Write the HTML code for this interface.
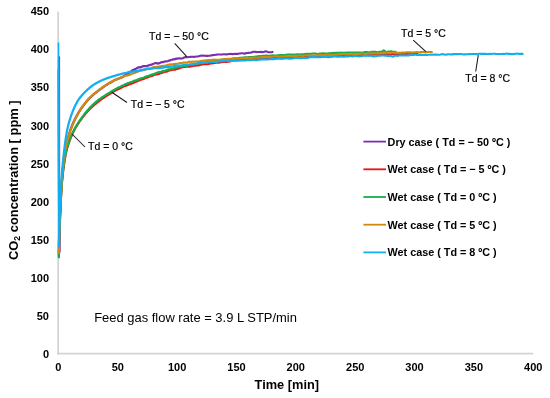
<!DOCTYPE html>
<html><head><meta charset="utf-8"><title>CO2 concentration vs time</title>
<style>
html,body{margin:0;padding:0;background:#fff;}
svg{display:block}
text{font-family:"Liberation Sans",sans-serif;fill:#000}
.tk{font-size:11px;font-weight:bold}
.lg{font-size:10.8px;font-weight:bold}
.an{font-size:10.5px;stroke:#000;stroke-width:0.2px}
.ax{font-size:12.8px;font-weight:bold}
</style></head><body>
<svg width="550" height="398" viewBox="0 0 550 398">
<rect width="550" height="398" fill="#fff"/>
<line x1="58.15" y1="11.8" x2="58.15" y2="354.6" stroke="#d4d4d4" stroke-width="1.8"/>
<line x1="57.25" y1="353.7" x2="533.2" y2="353.7" stroke="#d4d4d4" stroke-width="1.8"/>
<path d="M59.3 57.0 L59.4 252.0" fill="none" stroke="#7b2fae" stroke-width="1.6" stroke-linejoin="round" stroke-linecap="round"/>
<path d="M59.4 252.0 L59.40 252.00 L59.40 251.00 L59.41 250.00 L59.41 249.00 L59.42 247.99 L59.42 246.99 L59.43 245.99 L59.44 244.99 L59.45 243.99 L59.46 242.99 L59.47 241.99 L59.48 240.99 L59.50 239.99 L59.51 238.99 L59.53 237.99 L59.54 236.98 L59.56 235.98 L59.58 234.98 L59.60 233.98 L59.62 232.98 L59.64 231.98 L59.67 230.98 L59.69 229.98 L59.72 228.98 L59.74 227.98 L59.77 226.98 L59.79 225.98 L59.82 224.98 L59.85 223.98 L59.88 222.98 L59.91 221.99 L59.94 220.99 L59.98 219.99 L60.01 218.99 L60.04 217.99 L60.08 216.99 L60.11 215.99 L60.15 214.99 L60.18 213.99 L60.22 212.99 L60.26 211.99 L60.29 210.99 L60.33 210.00 L60.37 209.00 L60.41 208.00 L60.45 207.00 L60.49 206.00 L60.53 205.00 L60.58 204.00 L60.62 203.00 L60.66 202.01 L60.70 201.01 L60.75 200.01 L60.79 199.01 L60.84 198.01 L60.88 197.01 L60.93 196.02 L60.97 195.02 L61.02 194.02 L61.07 193.02 L61.12 192.02 L61.17 191.02 L61.23 190.03 L61.29 189.03 L61.35 188.03 L61.41 187.03 L61.48 186.04 L61.55 185.04 L61.63 184.04 L61.70 183.05 L61.78 182.05 L61.86 181.05 L61.94 180.05 L62.03 179.06 L62.11 178.06 L62.19 177.06 L62.27 176.07 L62.36 175.07 L62.44 174.07 L62.52 173.08 L62.61 172.08 L62.70 171.08 L62.78 170.09 L62.88 169.09 L62.97 168.10 L63.06 167.10 L63.16 166.11 L63.26 165.11 L63.37 164.12 L63.48 163.12 L63.59 162.13 L63.70 161.13 L63.82 160.14 L63.94 159.15 L64.07 158.16 L64.20 157.17 L64.33 156.17 L64.48 155.19 L64.63 154.20 L64.78 153.21 L64.94 152.22 L65.11 151.24 L65.29 150.26 L65.47 149.27 L65.66 148.29 L65.86 147.31 L66.07 146.33 L66.28 145.36 L66.49 144.38 L66.72 143.40 L66.94 142.43 L67.18 141.46 L67.41 140.48 L67.65 139.51 L67.90 138.54 L68.15 137.57 L68.41 136.60 L68.67 135.64 L68.94 134.68 L69.22 133.71 L69.51 132.76 L69.80 131.80 L70.10 130.85 L70.42 129.90 L70.75 128.96 L71.08 128.02 L71.43 127.09 L71.79 126.16 L72.17 125.23 L72.56 124.31 L72.95 123.40 L73.36 122.48 L73.78 121.57 L74.21 120.67 L74.65 119.77 L75.10 118.88 L75.55 117.99 L76.02 117.10 L76.49 116.22 L76.96 115.35 L77.45 114.48 L77.94 113.63 L78.43 112.78 L78.94 111.95 L79.45 111.12 L79.97 110.32 L80.50 109.52 L81.03 108.75 L81.58 107.98 L82.12 107.23 L82.67 106.49 L83.23 105.75 L83.80 105.02 L84.37 104.30 L84.94 103.58 L85.52 102.86 L86.11 102.15 L86.70 101.44 L87.31 100.74 L87.92 100.04 L88.55 99.35 L89.19 98.66 L89.84 97.99 L90.51 97.32 L91.20 96.66 L91.90 96.01 L92.61 95.37 L93.34 94.74 L94.09 94.11 L94.84 93.49 L95.61 92.87 L96.39 92.25 L97.17 91.64 L97.97 91.03 L98.77 90.42 L99.58 89.81 L100.40 89.20 L101.23 88.59 L102.07 87.99 L102.91 87.37 L103.76 86.74 L104.61 86.16 L105.47 85.62 L106.34 85.06 L107.21 84.47 L108.09 83.91 L108.98 83.38 L109.87 82.86 L110.76 82.44 L111.66 82.01 L112.56 81.43 L113.47 80.80 L114.38 80.25 L115.30 79.86 L116.22 79.50 L117.15 79.13 L118.07 78.80 L119.00 78.46 L119.93 78.16 L120.85 77.78 L121.77 77.42 L122.68 76.98 L123.58 76.39 L124.47 75.70 L125.33 75.01 L126.18 74.56 L127.00 74.23 L127.80 73.73 L128.59 73.38 L129.37 72.72 L130.15 72.05 L130.93 71.48 L131.72 70.76 L132.53 70.08 L133.37 69.83 L134.23 69.51 L135.11 69.08 L136.02 68.78 L136.94 67.97 L137.88 67.61 L138.84 67.27 L139.80 67.18 L140.77 67.27 L141.74 66.71 L142.71 66.38 L143.69 66.15 L144.66 66.01 L145.64 66.12 L146.62 66.11 L147.59 65.85 L148.57 65.30 L149.55 65.06 L150.52 64.79 L151.50 64.68 L152.47 64.20 L153.45 63.79 L154.42 63.51 L155.40 63.09 L156.37 63.18 L157.34 63.42 L158.32 63.54 L159.29 63.08 L160.26 62.76 L161.24 62.26 L162.21 62.16 L163.19 62.13 L164.16 61.72 L165.14 61.52 L166.11 61.31 L167.09 61.27 L168.06 60.97 L169.04 60.55 L170.02 60.39 L171.00 60.04 L171.97 59.76 L172.95 59.39 L173.93 59.36 L174.91 59.05 L175.89 58.83" fill="none" stroke="#7b2fae" stroke-width="2.25" stroke-linejoin="round" stroke-linecap="round"/>
<path d="M175.89 58.83 L176.87 58.62 L177.86 58.48 L178.84 58.40 L179.82 58.32 L180.81 58.59 L181.79 58.57 L182.78 58.26 L183.76 57.67 L184.75 57.24 L185.74 57.02 L186.73 57.18 L187.72 57.19 L188.70 57.05 L189.69 56.99 L190.68 56.84 L191.67 56.79 L192.67 56.72 L193.66 56.87 L194.65 56.74 L195.64 56.65 L196.63 56.52 L197.63 56.42 L198.62 56.23 L199.61 55.91 L200.61 55.67 L201.60 55.71 L202.60 55.61 L203.59 55.59 L204.59 55.70 L205.59 55.83 L206.58 55.84 L207.58 55.90 L208.58 55.73 L209.57 55.77 L210.57 55.51 L211.57 55.49 L212.57 55.01 L213.57 55.08 L214.57 54.95 L215.56 54.69 L216.56 54.61 L217.56 54.53 L218.56 54.50 L219.56 54.44 L220.56 54.47 L221.56 54.48 L222.57 54.38 L223.57 54.21 L224.57 54.27 L225.57 54.41 L226.57 54.54 L227.57 54.23 L228.57 53.96 L229.57 53.93 L230.56 53.88 L231.56 54.03 L232.56 54.11 L233.55 54.08 L234.55 53.87 L235.54 53.93 L236.54 53.70 L237.53 53.89 L238.52 53.67 L239.51 53.55 L240.51 53.53 L241.50 53.29 L242.49 53.30 L243.48 53.52 L244.48 53.64 L245.47 53.39 L246.47 53.13 L247.46 53.05 L248.46 52.83 L249.45 52.78 L250.45 52.73 L251.45 52.55 L252.45 51.98 L253.44 51.70 L254.44 51.70 L255.44 51.90 L256.44 52.09 L257.44 51.94 L258.44 51.98 L259.44 51.93 L260.44 51.88 L261.44 52.08 L262.44 52.15 L263.44 52.06 L264.45 51.71 L265.45 51.27 L266.45 51.54 L267.46 51.84 L268.46 52.30 L269.47 52.27 L270.47 52.17 L271.48 52.30 L272.49 51.91" fill="none" stroke="#7b2fae" stroke-width="2.1" stroke-linejoin="round" stroke-linecap="round"/>
<path d="M58.5 70.0 L58.9 255.0" fill="none" stroke="#f4100e" stroke-width="1.6" stroke-linejoin="round" stroke-linecap="round"/>
<path d="M58.9 255.0 L58.90 255.00 L58.91 254.00 L58.92 253.00 L58.93 252.00 L58.95 251.00 L58.96 250.00 L58.97 249.00 L58.99 247.99 L59.01 246.99 L59.03 245.99 L59.04 244.99 L59.06 243.99 L59.09 242.99 L59.11 241.99 L59.13 240.99 L59.16 239.99 L59.18 238.99 L59.21 237.99 L59.24 236.99 L59.27 235.99 L59.30 234.99 L59.33 233.99 L59.36 232.99 L59.40 231.99 L59.43 230.99 L59.47 229.99 L59.50 228.99 L59.54 227.99 L59.58 227.00 L59.62 226.00 L59.66 225.00 L59.70 224.00 L59.74 223.00 L59.78 222.00 L59.82 221.00 L59.87 220.00 L59.91 219.00 L59.96 218.00 L60.00 217.00 L60.05 216.01 L60.09 215.01 L60.14 214.01 L60.19 213.01 L60.24 212.01 L60.29 211.01 L60.34 210.01 L60.39 209.01 L60.44 208.02 L60.49 207.02 L60.54 206.02 L60.59 205.02 L60.64 204.02 L60.69 203.02 L60.75 202.03 L60.80 201.03 L60.85 200.03 L60.91 199.03 L60.96 198.03 L61.02 197.03 L61.07 196.04 L61.12 195.04 L61.18 194.04 L61.24 193.04 L61.29 192.04 L61.35 191.05 L61.41 190.05 L61.47 189.05 L61.54 188.05 L61.60 187.05 L61.67 186.06 L61.75 185.06 L61.82 184.06 L61.90 183.07 L61.98 182.07 L62.07 181.07 L62.16 180.08 L62.25 179.08 L62.35 178.09 L62.45 177.09 L62.56 176.10 L62.67 175.10 L62.78 174.11 L62.90 173.12 L63.02 172.13 L63.15 171.13 L63.28 170.14 L63.41 169.15 L63.54 168.16 L63.67 167.17 L63.81 166.18 L63.95 165.18 L64.09 164.19 L64.23 163.20 L64.37 162.21 L64.51 161.22 L64.66 160.23 L64.81 159.24 L64.97 158.25 L65.13 157.27 L65.30 156.28 L65.48 155.30 L65.67 154.32 L65.87 153.34 L66.08 152.37 L66.30 151.39 L66.54 150.42 L66.78 149.46 L67.04 148.49 L67.31 147.53 L67.60 146.57 L67.89 145.61 L68.19 144.66 L68.51 143.71 L68.83 142.76 L69.16 141.82 L69.50 140.88 L69.85 139.94 L70.21 139.01 L70.58 138.08 L70.96 137.15 L71.35 136.23 L71.75 135.31 L72.17 134.40 L72.59 133.49 L73.02 132.59 L73.46 131.70 L73.91 130.81 L74.38 129.92 L74.85 129.04 L75.34 128.17 L75.83 127.31 L76.34 126.45 L76.86 125.60 L77.39 124.75 L77.93 123.91 L78.49 123.08 L79.05 122.25 L79.62 121.43 L80.20 120.61 L80.79 119.80 L81.38 118.99 L81.98 118.19 L82.59 117.40 L83.20 116.61 L83.82 115.82 L84.44 115.05 L85.07 114.28 L85.70 113.52 L86.34 112.77 L86.99 112.04 L87.64 111.31 L88.29 110.60 L88.95 109.91 L89.62 109.23 L90.30 108.56 L90.98 107.90 L91.66 107.25 L92.35 106.62 L93.05 105.99 L93.75 105.37 L94.45 104.75 L95.17 104.14 L95.89 103.54 L96.61 102.93 L97.35 102.34 L98.09 101.75 L98.85 101.16 L99.61 100.58 L100.39 100.00 L101.18 99.43 L101.99 98.87 L102.80 98.32 L103.63 97.76 L104.46 97.21 L105.30 96.65 L106.15 96.14 L107.00 95.63 L107.86 95.09 L108.72 94.58 L109.59 94.03 L110.46 93.54 L111.33 92.94 L112.21 92.33 L113.09 91.87 L113.98 91.33 L114.87 90.83 L115.76 90.38 L116.66 89.87 L117.56 89.46 L118.46 88.97 L119.36 88.64 L120.27 88.20 L121.18 87.69 L122.10 87.23 L123.02 86.77 L123.94 86.24 L124.86 86.02 L125.79 85.79 L126.72 85.46 L127.65 85.05 L128.59 84.63 L129.53 84.26 L130.46 83.96 L131.40 83.62 L132.34 83.37 L133.27 82.87 L134.21 82.52 L135.14 82.00 L136.08 81.72 L137.01 81.18 L137.95 80.83 L138.88 80.54 L139.82 80.24 L140.76 79.74 L141.70 79.51 L142.64 79.29 L143.58 78.99 L144.52 78.48 L145.47 78.08 L146.41 77.64 L147.36 77.46 L148.30 77.10 L149.25 76.64 L150.20 76.24 L151.15 76.09 L152.10 75.85 L153.05 75.40 L154.01 75.05 L154.96 74.58 L155.92 74.32 L156.87 74.42 L157.83 74.19 L158.79 73.91 L159.74 73.40 L160.70 73.19 L161.66 72.79 L162.62 72.58 L163.59 72.17 L164.55 71.93 L165.51 71.75 L166.48 71.67 L167.44 71.21 L168.41 70.72 L169.38 70.34 L170.34 70.10 L171.31 70.11 L172.28 69.66 L173.26 69.60 L174.23 69.61 L175.20 69.49" fill="none" stroke="#f4100e" stroke-width="2.25" stroke-linejoin="round" stroke-linecap="round"/>
<path d="M175.20 69.49 L176.18 69.15 L177.15 68.97 L178.13 68.71 L179.11 68.39 L180.09 67.91 L181.07 67.70 L182.06 67.32 L183.04 67.19 L184.03 66.78 L185.01 66.85 L186.00 66.66 L186.99 66.63 L187.97 66.77 L188.96 66.65 L189.95 66.65 L190.94 66.31 L191.92 66.26 L192.91 65.92 L193.90 65.68 L194.89 65.65 L195.88 65.58 L196.87 65.35 L197.86 65.36 L198.85 65.37 L199.84 65.08 L200.83 64.75 L201.82 64.51 L202.81 64.50 L203.80 64.28 L204.79 64.09 L205.78 64.19 L206.77 64.06 L207.76 64.17 L208.75 63.90 L209.75 63.66 L210.74 63.50 L211.73 63.50 L212.72 63.26 L213.72 63.15 L214.71 63.02 L215.70 62.83 L216.69 62.67 L217.69 62.59 L218.68 62.65 L219.67 62.60 L220.66 62.16 L221.66 62.30 L222.65 61.94 L223.64 61.96 L224.64 61.80 L225.63 61.87 L226.62 61.83 L227.62 61.78 L228.61 61.76 L229.60 61.51 L230.60 61.04 L231.59 60.81 L232.59 60.67 L233.58 60.47 L234.58 60.25 L235.57 60.21 L236.57 60.25 L237.56 60.17 L238.56 60.11 L239.56 60.29 L240.55 60.08 L241.55 60.07 L242.54 59.96 L243.54 60.06 L244.54 60.01 L245.53 59.77 L246.53 59.75 L247.53 59.49 L248.53 59.47 L249.52 59.25 L250.52 59.03 L251.52 59.13 L252.52 58.98 L253.51 59.01 L254.51 59.09 L255.51 59.03 L256.51 58.88 L257.51 58.73 L258.50 58.51 L259.50 58.47 L260.50 58.82 L261.50 58.68 L262.50 58.54 L263.50 58.37 L264.49 58.37 L265.49 58.39 L266.49 58.35 L267.49 58.39 L268.49 58.15 L269.49 58.19 L270.49 58.13 L271.48 58.12 L272.48 58.11 L273.48 57.87 L274.48 58.24 L275.48 57.88 L276.48 57.93 L277.48 57.85 L278.48 57.67 L279.48 57.50 L280.48 57.26 L281.47 57.46 L282.47 57.62 L283.47 57.43 L284.47 57.36 L285.47 57.20 L286.47 57.46 L287.47 57.38 L288.47 57.25 L289.47 57.32 L290.47 57.35 L291.47 57.26 L292.47 57.24 L293.47 57.13 L294.47 57.04 L295.47 57.03 L296.47 56.87 L297.47 56.78 L298.46 56.81 L299.46 56.69 L300.46 56.60 L301.46 56.77 L302.46 56.63 L303.46 56.67 L304.46 56.73 L305.46 56.63 L306.46 56.77 L307.46 56.65 L308.46 56.45 L309.46 56.39 L310.46 56.35 L311.46 56.35 L312.46 56.55 L313.46 56.43 L314.45 56.48 L315.45 56.34 L316.45 56.22 L317.45 56.20 L318.45 56.24 L319.45 56.13 L320.45 55.95 L321.45 55.89 L322.45 55.85 L323.45 55.94 L324.45 56.05 L325.45 55.99 L326.45 56.02 L327.45 55.88 L328.45 55.70 L329.45 55.47 L330.45 55.44 L331.45 55.66 L332.45 55.83 L333.44 55.77 L334.44 55.73 L335.44 55.91 L336.44 55.86 L337.44 55.63 L338.44 55.69 L339.44 55.53 L340.44 55.59 L341.44 55.49 L342.44 55.52 L343.44 55.53 L344.44 55.54 L345.44 55.64 L346.44 55.55 L347.44 55.56 L348.44 55.30 L349.44 55.11 L350.44 55.11 L351.44 55.05 L352.44 55.08 L353.44 55.09 L354.44 54.89 L355.44 54.92 L356.44 54.89 L357.44 54.90 L358.43 54.70 L359.43 54.85 L360.43 54.85 L361.43 54.63 L362.43 54.52 L363.43 54.49 L364.43 54.50 L365.43 54.79 L366.43 54.90 L367.43 54.77 L368.43 54.63 L369.43 54.49 L370.43 54.63 L371.43 54.53 L372.43 54.52 L373.43 54.60 L374.43 54.44 L375.43 54.50 L376.43 54.57 L377.43 54.54 L378.43 54.57 L379.43 54.57 L380.43 54.46 L381.43 54.19 L382.43 54.15 L383.43 54.31 L384.43 54.20 L385.43 54.02 L386.43 54.15 L387.43 54.32 L388.43 54.29 L389.43 54.44 L390.43 54.41 L391.43 54.35 L392.43 54.07 L393.43 54.12 L394.43 54.28 L395.43 54.17 L396.43 54.39 L397.43 54.32 L398.42 54.20 L399.42 54.06 L400.42 53.90 L401.42 53.85 L402.42 53.94 L403.42 54.03 L404.42 54.19 L405.42 54.24 L406.42 54.13 L407.42 53.82 L408.42 53.65 L409.42 53.82 L410.42 53.97 L411.42 54.00 L412.42 53.80 L413.42 53.75 L414.42 53.59 L415.42 53.75 L416.42 53.71 L417.42 53.81" fill="none" stroke="#f4100e" stroke-width="2.1" stroke-linejoin="round" stroke-linecap="round"/>
<path d="M58.5 70.0 L58.9 257.3" fill="none" stroke="#14ae4c" stroke-width="1.6" stroke-linejoin="round" stroke-linecap="round"/>
<path d="M58.9 257.3 L58.90 257.30 L58.91 256.30 L58.91 255.30 L58.92 254.30 L58.93 253.30 L58.94 252.29 L58.94 251.29 L58.96 250.29 L58.97 249.29 L58.98 248.29 L59.00 247.29 L59.01 246.29 L59.03 245.29 L59.05 244.29 L59.07 243.29 L59.09 242.29 L59.11 241.29 L59.13 240.29 L59.16 239.29 L59.18 238.29 L59.21 237.29 L59.24 236.29 L59.27 235.29 L59.30 234.29 L59.33 233.29 L59.36 232.29 L59.39 231.29 L59.42 230.29 L59.46 229.29 L59.49 228.29 L59.53 227.29 L59.57 226.29 L59.61 225.29 L59.64 224.29 L59.68 223.29 L59.72 222.29 L59.77 221.30 L59.81 220.30 L59.85 219.30 L59.89 218.30 L59.94 217.30 L59.98 216.30 L60.03 215.30 L60.07 214.30 L60.12 213.30 L60.16 212.31 L60.21 211.31 L60.26 210.31 L60.31 209.31 L60.36 208.31 L60.41 207.31 L60.45 206.31 L60.50 205.32 L60.55 204.32 L60.61 203.32 L60.66 202.32 L60.71 201.32 L60.76 200.32 L60.81 199.33 L60.86 198.33 L60.91 197.33 L60.97 196.33 L61.02 195.33 L61.07 194.33 L61.13 193.34 L61.18 192.34 L61.24 191.34 L61.30 190.34 L61.36 189.34 L61.42 188.35 L61.49 187.35 L61.55 186.35 L61.62 185.35 L61.70 184.36 L61.78 183.36 L61.86 182.36 L61.94 181.37 L62.03 180.37 L62.12 179.37 L62.21 178.38 L62.31 177.38 L62.41 176.39 L62.51 175.39 L62.62 174.40 L62.73 173.41 L62.84 172.41 L62.96 171.42 L63.08 170.43 L63.20 169.43 L63.33 168.44 L63.46 167.45 L63.58 166.46 L63.72 165.46 L63.85 164.47 L63.99 163.48 L64.13 162.49 L64.27 161.50 L64.41 160.51 L64.56 159.52 L64.72 158.53 L64.88 157.54 L65.05 156.56 L65.23 155.58 L65.42 154.60 L65.61 153.62 L65.82 152.64 L66.04 151.67 L66.28 150.70 L66.52 149.73 L66.78 148.77 L67.05 147.81 L67.34 146.85 L67.63 145.89 L67.94 144.94 L68.25 143.99 L68.57 143.04 L68.90 142.10 L69.24 141.15 L69.59 140.22 L69.94 139.28 L70.31 138.35 L70.68 137.42 L71.06 136.49 L71.45 135.57 L71.85 134.65 L72.26 133.74 L72.68 132.83 L73.11 131.93 L73.54 131.03 L73.99 130.14 L74.45 129.26 L74.93 128.38 L75.41 127.51 L75.90 126.64 L76.41 125.78 L76.92 124.93 L77.45 124.08 L77.99 123.23 L78.54 122.40 L79.09 121.56 L79.66 120.74 L80.23 119.91 L80.81 119.10 L81.39 118.28 L81.98 117.47 L82.58 116.67 L83.17 115.87 L83.78 115.07 L84.38 114.28 L84.99 113.49 L85.61 112.72 L86.22 111.95 L86.85 111.19 L87.48 110.44 L88.11 109.71 L88.75 108.99 L89.40 108.28 L90.05 107.58 L90.70 106.90 L91.36 106.23 L92.03 105.57 L92.70 104.92 L93.38 104.28 L94.07 103.64 L94.77 103.02 L95.47 102.40 L96.18 101.79 L96.91 101.19 L97.65 100.59 L98.40 100.01 L99.16 99.43 L99.94 98.86 L100.73 98.30 L101.54 97.75 L102.35 97.20 L103.18 96.65 L104.02 96.11 L104.86 95.59 L105.71 95.05 L106.56 94.54 L107.42 93.98 L108.28 93.42 L109.15 92.87 L110.02 92.36 L110.89 91.79 L111.77 91.32 L112.66 90.81 L113.55 90.32 L114.44 89.79 L115.33 89.25 L116.23 88.76 L117.13 88.23 L118.03 87.76 L118.94 87.30 L119.84 86.99 L120.75 86.51 L121.67 86.09 L122.59 85.60 L123.51 85.20 L124.43 84.74 L125.36 84.28 L126.29 83.89 L127.22 83.44 L128.16 83.08 L129.09 82.86 L130.03 82.46 L130.96 82.11 L131.90 81.89 L132.83 81.49 L133.76 80.86 L134.70 80.63 L135.63 80.39 L136.56 80.11 L137.49 79.70 L138.42 79.50 L139.36 78.93 L140.30 78.62 L141.23 78.34 L142.17 78.02 L143.11 77.78 L144.06 77.44 L145.00 76.96 L145.94 76.72 L146.88 76.27 L147.83 76.04 L148.77 75.91 L149.71 75.44 L150.66 75.14 L151.60 74.68 L152.54 74.41 L153.49 74.19 L154.43 73.93 L155.37 73.47 L156.31 73.00 L157.26 72.64 L158.20 72.43 L159.14 72.18 L160.09 72.03 L161.04 71.82 L161.99 71.42 L162.94 71.12 L163.89 71.08 L164.85 70.74 L165.81 70.33 L166.77 70.06 L167.73 69.67 L168.70 69.38 L169.67 69.30 L170.64 68.97 L171.61 68.95 L172.58 68.54 L173.55 68.29 L174.53 68.15 L175.51 67.93" fill="none" stroke="#14ae4c" stroke-width="2.25" stroke-linejoin="round" stroke-linecap="round"/>
<path d="M175.51 67.93 L176.48 67.55 L177.46 67.45 L178.44 67.09 L179.42 66.96 L180.40 66.86 L181.38 66.76 L182.36 66.42 L183.34 66.34 L184.33 66.17 L185.31 65.96 L186.29 65.92 L187.28 65.79 L188.26 65.34 L189.25 65.13 L190.23 65.06 L191.21 64.90 L192.20 64.96 L193.18 64.70 L194.17 64.34 L195.15 64.03 L196.14 63.74 L197.12 63.61 L198.11 63.48 L199.09 63.34 L200.08 63.22 L201.07 63.25 L202.05 63.20 L203.04 62.95 L204.03 62.95 L205.02 62.57 L206.01 62.38 L207.00 62.06 L207.99 61.76 L208.98 61.64 L209.97 61.45 L210.96 61.37 L211.95 61.42 L212.94 61.34 L213.93 61.25 L214.92 61.05 L215.91 60.94 L216.90 60.63 L217.89 60.53 L218.89 60.38 L219.88 60.30 L220.87 60.15 L221.86 59.95 L222.85 59.76 L223.85 59.55 L224.84 59.59 L225.83 59.61 L226.83 59.55 L227.82 59.13 L228.81 59.18 L229.81 59.13 L230.80 58.96 L231.79 58.85 L232.79 58.55 L233.78 58.30 L234.77 58.37 L235.77 58.42 L236.76 58.50 L237.76 58.30 L238.75 58.16 L239.75 57.74 L240.74 57.71 L241.74 57.67 L242.73 57.49 L243.73 57.50 L244.73 57.37 L245.72 57.41 L246.72 57.33 L247.72 57.30 L248.71 57.06 L249.71 57.12 L250.71 57.09 L251.71 57.10 L252.71 57.10 L253.70 56.86 L254.70 56.76 L255.70 56.53 L256.70 56.47 L257.70 56.38 L258.70 56.05 L259.70 56.20 L260.70 56.02 L261.70 55.96 L262.70 55.86 L263.70 55.87 L264.70 55.68 L265.70 55.67 L266.70 55.64 L267.69 55.72 L268.69 55.81 L269.69 55.79 L270.69 55.66 L271.69 55.44 L272.69 55.24 L273.69 55.47 L274.69 55.57 L275.69 55.64 L276.69 55.61 L277.69 55.31 L278.69 55.19 L279.69 54.97 L280.68 55.15 L281.68 55.05 L282.68 55.00 L283.68 55.13 L284.68 55.02 L285.68 54.89 L286.68 54.82 L287.68 54.56 L288.68 54.56 L289.68 54.56 L290.68 54.58 L291.68 54.60 L292.67 54.83 L293.67 54.64 L294.67 54.64 L295.67 54.48 L296.67 54.40 L297.67 54.19 L298.67 54.19 L299.67 54.43 L300.67 54.41 L301.67 54.25 L302.67 54.26 L303.67 54.23 L304.67 53.99 L305.66 54.13 L306.66 53.89 L307.66 53.91 L308.66 53.73 L309.66 54.00 L310.66 53.76 L311.66 53.79 L312.66 53.50 L313.66 53.54 L314.66 53.47 L315.66 53.58 L316.66 53.93 L317.66 54.04 L318.66 53.84 L319.66 53.50 L320.66 53.47 L321.66 53.48 L322.65 53.39 L323.65 53.37 L324.65 53.43 L325.65 53.44 L326.65 53.58 L327.65 53.65 L328.65 53.38 L329.65 53.41 L330.65 53.35 L331.65 53.03 L332.65 53.03 L333.65 52.87 L334.65 52.93 L335.65 52.83 L336.65 52.85 L337.65 52.89 L338.65 52.89 L339.65 52.83 L340.65 52.55 L341.64 52.80 L342.64 52.68 L343.64 52.70 L344.64 52.77 L345.64 52.80 L346.64 52.63 L347.64 52.63 L348.64 52.60 L349.64 52.65 L350.64 52.52 L351.64 52.61 L352.64 52.62 L353.64 52.58 L354.64 52.66 L355.64 52.54 L356.64 52.42 L357.64 52.55 L358.64 52.60 L359.64 52.61 L360.64 52.60 L361.64 52.73 L362.64 52.51 L363.64 52.36 L364.64 52.04 L365.64 52.02 L366.64 52.00 L367.64 52.12 L368.64 52.18 L369.64 52.23 L370.63 52.08 L371.63 51.78 L372.63 51.81 L373.63 51.88 L374.63 51.89 L375.63 51.78 L376.63 52.01 L377.63 52.18 L378.63 52.00 L379.63 51.89 L380.63 51.81 L381.63 51.70 L382.63 51.34 L383.63 50.38 L384.63 50.73 L385.63 51.84 L386.63 52.08 L387.63 51.58 L388.63 51.60 L389.63 51.62 L390.63 51.42 L391.63 51.33 L392.63 51.83 L393.63 51.71 L394.63 51.77 L395.63 51.82" fill="none" stroke="#14ae4c" stroke-width="2.1" stroke-linejoin="round" stroke-linecap="round"/>
<path d="M58.5 60.0 L58.9 252.7" fill="none" stroke="#d08a0c" stroke-width="1.6" stroke-linejoin="round" stroke-linecap="round"/>
<path d="M58.9 252.7 L58.90 252.70 L58.91 251.70 L58.91 250.70 L58.92 249.70 L58.93 248.70 L58.93 247.69 L58.94 246.69 L58.95 245.69 L58.97 244.69 L58.98 243.69 L58.99 242.69 L59.01 241.69 L59.03 240.69 L59.05 239.69 L59.07 238.69 L59.09 237.69 L59.11 236.69 L59.14 235.69 L59.16 234.69 L59.19 233.69 L59.22 232.69 L59.24 231.69 L59.27 230.69 L59.30 229.69 L59.34 228.69 L59.37 227.69 L59.40 226.69 L59.44 225.69 L59.47 224.69 L59.51 223.69 L59.55 222.69 L59.59 221.69 L59.63 220.69 L59.67 219.69 L59.71 218.70 L59.75 217.70 L59.79 216.70 L59.83 215.70 L59.88 214.70 L59.92 213.70 L59.97 212.70 L60.01 211.70 L60.06 210.70 L60.10 209.71 L60.15 208.71 L60.20 207.71 L60.25 206.71 L60.30 205.71 L60.35 204.71 L60.39 203.71 L60.44 202.72 L60.49 201.72 L60.55 200.72 L60.60 199.72 L60.65 198.72 L60.70 197.72 L60.75 196.73 L60.80 195.73 L60.86 194.73 L60.91 193.73 L60.96 192.73 L61.02 191.74 L61.08 190.74 L61.14 189.74 L61.20 188.74 L61.27 187.74 L61.33 186.75 L61.40 185.75 L61.48 184.75 L61.55 183.76 L61.63 182.76 L61.71 181.76 L61.79 180.76 L61.87 179.77 L61.95 178.77 L62.03 177.77 L62.12 176.78 L62.20 175.78 L62.28 174.78 L62.37 173.79 L62.45 172.79 L62.54 171.79 L62.62 170.80 L62.71 169.80 L62.80 168.81 L62.89 167.81 L62.99 166.81 L63.08 165.82 L63.18 164.82 L63.28 163.83 L63.38 162.83 L63.49 161.84 L63.60 160.84 L63.71 159.85 L63.83 158.86 L63.95 157.86 L64.07 156.87 L64.21 155.88 L64.35 154.89 L64.49 153.90 L64.65 152.92 L64.81 151.93 L64.99 150.95 L65.17 149.97 L65.37 148.99 L65.57 148.01 L65.78 147.03 L66.01 146.06 L66.23 145.08 L66.47 144.11 L66.71 143.14 L66.96 142.17 L67.22 141.20 L67.48 140.24 L67.75 139.28 L68.02 138.31 L68.30 137.35 L68.59 136.39 L68.88 135.44 L69.18 134.48 L69.49 133.53 L69.81 132.58 L70.13 131.64 L70.46 130.69 L70.80 129.75 L71.14 128.81 L71.50 127.88 L71.86 126.95 L72.23 126.02 L72.60 125.09 L72.99 124.17 L73.38 123.25 L73.79 122.33 L74.19 121.42 L74.61 120.51 L75.04 119.61 L75.47 118.70 L75.90 117.81 L76.35 116.91 L76.80 116.03 L77.26 115.14 L77.72 114.27 L78.19 113.40 L78.67 112.55 L79.16 111.70 L79.65 110.87 L80.15 110.05 L80.66 109.24 L81.17 108.45 L81.69 107.67 L82.21 106.91 L82.75 106.15 L83.28 105.40 L83.83 104.66 L84.38 103.92 L84.94 103.19 L85.51 102.47 L86.09 101.75 L86.68 101.04 L87.28 100.33 L87.89 99.63 L88.52 98.94 L89.16 98.26 L89.82 97.59 L90.49 96.93 L91.18 96.27 L91.88 95.63 L92.60 94.99 L93.34 94.36 L94.09 93.73 L94.85 93.12 L95.61 92.50 L96.39 91.89 L97.18 91.28 L97.98 90.67 L98.79 90.07 L99.60 89.46 L100.42 88.85 L101.25 88.24 L102.09 87.65 L102.93 87.04 L103.78 86.44 L104.64 85.87 L105.50 85.28 L106.37 84.72 L107.24 84.15 L108.13 83.56 L109.01 83.05 L109.90 82.55 L110.80 82.08 L111.70 81.57 L112.60 81.14 L113.51 80.65 L114.43 80.21 L115.34 79.81 L116.27 79.55 L117.19 79.12 L118.12 78.67 L119.05 78.25 L119.99 77.85 L120.93 77.42 L121.88 77.16 L122.82 76.75 L123.77 76.36 L124.72 76.09 L125.68 75.73 L126.63 75.66 L127.59 75.41 L128.54 75.16 L129.49 74.86 L130.44 74.37 L131.39 74.08 L132.34 73.70 L133.29 73.30 L134.23 72.87 L135.18 72.61 L136.13 72.25 L137.08 71.93 L138.03 71.41 L138.98 71.04 L139.93 70.76 L140.89 70.56 L141.85 70.31 L142.81 70.08 L143.77 69.90 L144.74 69.64 L145.71 69.43 L146.68 69.13 L147.65 68.83 L148.62 68.55 L149.60 68.65 L150.57 68.58 L151.55 68.01 L152.53 67.54 L153.50 67.19 L154.48 67.04 L155.46 67.03 L156.44 66.88 L157.42 66.84 L158.41 66.56 L159.39 66.48 L160.37 66.28 L161.36 66.07 L162.35 66.07 L163.33 65.88 L164.32 65.86 L165.31 65.69 L166.29 65.49 L167.28 65.09 L168.27 64.75 L169.26 64.49 L170.25 64.59 L171.24 64.48 L172.23 64.34 L173.22 64.25 L174.20 64.13 L175.19 63.99" fill="none" stroke="#d08a0c" stroke-width="2.25" stroke-linejoin="round" stroke-linecap="round"/>
<path d="M175.19 63.99 L176.18 63.75 L177.17 63.68 L178.16 63.55 L179.15 63.30 L180.14 63.10 L181.14 63.16 L182.13 62.89 L183.12 62.67 L184.11 62.60 L185.10 62.43 L186.09 62.48 L187.08 62.36 L188.08 62.19 L189.07 61.72 L190.06 61.72 L191.06 61.85 L192.05 61.68 L193.05 61.66 L194.04 61.76 L195.04 61.65 L196.03 61.57 L197.03 61.57 L198.02 61.50 L199.02 61.24 L200.02 61.31 L201.01 60.90 L202.01 60.80 L203.01 60.89 L204.00 60.46 L205.00 60.47 L206.00 60.25 L207.00 60.22 L207.99 60.11 L208.99 60.05 L209.99 60.05 L210.98 60.04 L211.98 59.88 L212.98 59.85 L213.97 59.63 L214.97 59.76 L215.97 59.68 L216.97 59.77 L217.97 59.69 L218.96 59.70 L219.96 59.74 L220.96 59.56 L221.96 59.40 L222.96 59.22 L223.96 59.16 L224.96 59.12 L225.96 59.09 L226.95 58.94 L227.95 58.91 L228.95 58.91 L229.95 58.71 L230.95 58.81 L231.95 58.78 L232.95 58.91 L233.95 58.77 L234.95 58.65 L235.95 58.40 L236.94 58.25 L237.94 58.25 L238.94 58.49 L239.94 58.51 L240.94 58.35 L241.94 58.02 L242.94 58.17 L243.94 58.00 L244.93 58.04 L245.93 57.89 L246.93 57.87 L247.93 57.84 L248.93 57.73 L249.93 57.83 L250.93 57.87 L251.92 58.09 L252.92 57.68 L253.92 57.65 L254.92 57.67 L255.92 57.64 L256.92 57.79 L257.92 57.75 L258.92 57.78 L259.92 57.19 L260.91 57.18 L261.91 57.10 L262.91 57.10 L263.91 57.10 L264.91 56.96 L265.91 57.03 L266.91 57.10 L267.91 56.94 L268.91 57.10 L269.91 56.96 L270.91 56.94 L271.91 56.75 L272.91 56.73 L273.90 56.54 L274.90 56.43 L275.90 56.25 L276.90 56.52 L277.90 56.62 L278.90 56.57 L279.90 56.75 L280.90 56.57 L281.90 56.44 L282.90 56.67 L283.90 56.42 L284.90 56.27 L285.90 56.24 L286.90 56.21 L287.90 56.08 L288.90 56.21 L289.90 56.26 L290.90 56.12 L291.90 56.10 L292.89 56.02 L293.89 55.85 L294.89 55.83 L295.89 55.95 L296.89 55.90 L297.89 55.71 L298.89 55.73 L299.89 55.69 L300.89 55.74 L301.89 55.77 L302.89 55.97 L303.89 55.68 L304.89 55.50 L305.89 55.50 L306.89 55.28 L307.89 55.35 L308.89 55.46 L309.89 55.34 L310.89 55.46 L311.89 55.64 L312.88 55.52 L313.88 55.39 L314.88 55.33 L315.88 55.21 L316.88 55.25 L317.88 55.16 L318.88 55.33 L319.88 55.13 L320.88 55.02 L321.88 55.06 L322.88 55.13 L323.88 55.03 L324.88 54.98 L325.88 55.01 L326.88 54.68 L327.88 54.74 L328.88 54.91 L329.88 54.99 L330.88 54.85 L331.88 55.12 L332.87 55.00 L333.87 55.07 L334.87 54.84 L335.87 54.65 L336.87 54.62 L337.87 54.51 L338.87 54.32 L339.87 54.49 L340.87 54.23 L341.87 54.31 L342.87 54.21 L343.87 54.17 L344.87 54.25 L345.87 54.25 L346.87 54.18 L347.87 54.17 L348.87 53.97 L349.87 53.89 L350.87 53.77 L351.87 53.87 L352.86 53.93 L353.86 53.73 L354.86 53.97 L355.86 53.90 L356.86 53.95 L357.86 53.74 L358.86 53.94 L359.86 53.99 L360.86 53.75 L361.86 53.58 L362.86 53.44 L363.86 53.66 L364.86 53.85 L365.86 54.02 L366.86 53.76 L367.86 53.47 L368.86 53.49 L369.86 53.48 L370.86 53.53 L371.86 53.60 L372.86 53.46 L373.85 53.58 L374.85 53.42 L375.85 53.46 L376.85 53.44 L377.85 53.33 L378.85 53.35 L379.85 53.23 L380.85 53.28 L381.85 53.26 L382.85 53.01 L383.85 52.90 L384.85 53.05 L385.85 52.76 L386.85 52.61 L387.85 52.65 L388.85 52.98 L389.85 52.70 L390.85 52.81 L391.85 52.74 L392.85 52.56 L393.85 52.65 L394.85 52.56 L395.85 52.69 L396.85 52.77 L397.85 52.84 L398.84 52.87 L399.84 52.80 L400.84 52.78 L401.84 52.58 L402.84 52.51 L403.84 52.49 L404.84 52.44 L405.84 52.29 L406.84 52.20 L407.84 52.20 L408.84 52.34 L409.84 52.30 L410.84 52.34 L411.84 52.59 L412.84 52.44 L413.84 52.31 L414.84 52.19 L415.84 52.22 L416.84 51.97 L417.84 52.19 L418.84 52.26 L419.84 52.38 L420.84 52.13 L421.84 52.14 L422.84 51.84 L423.84 52.01 L424.84 52.19 L425.84 52.19 L426.84 51.94 L427.84 52.07 L428.84 52.01 L429.84 52.00 L430.84 52.04 L431.84 52.12" fill="none" stroke="#d08a0c" stroke-width="2.1" stroke-linejoin="round" stroke-linecap="round"/>
<path d="M58.5 43.0 L58.9 246.4" fill="none" stroke="#12aff0" stroke-width="1.6" stroke-linejoin="round" stroke-linecap="round"/>
<path d="M58.9 246.4 L58.90 246.40 L58.92 245.40 L58.93 244.40 L58.95 243.40 L58.97 242.40 L58.98 241.40 L59.00 240.40 L59.02 239.40 L59.04 238.40 L59.06 237.40 L59.08 236.40 L59.11 235.40 L59.13 234.40 L59.15 233.40 L59.18 232.40 L59.21 231.40 L59.23 230.40 L59.26 229.40 L59.29 228.40 L59.32 227.40 L59.35 226.40 L59.38 225.40 L59.41 224.40 L59.44 223.40 L59.48 222.40 L59.51 221.40 L59.54 220.40 L59.58 219.40 L59.61 218.40 L59.65 217.40 L59.69 216.41 L59.72 215.41 L59.76 214.41 L59.80 213.41 L59.84 212.41 L59.88 211.41 L59.92 210.41 L59.96 209.41 L60.00 208.41 L60.04 207.41 L60.08 206.41 L60.12 205.41 L60.16 204.42 L60.21 203.42 L60.25 202.42 L60.29 201.42 L60.33 200.42 L60.38 199.42 L60.42 198.42 L60.47 197.42 L60.51 196.42 L60.56 195.43 L60.60 194.43 L60.65 193.43 L60.69 192.43 L60.74 191.43 L60.79 190.43 L60.84 189.43 L60.89 188.43 L60.94 187.44 L61.00 186.44 L61.05 185.44 L61.11 184.44 L61.17 183.44 L61.23 182.44 L61.30 181.45 L61.36 180.45 L61.43 179.45 L61.50 178.45 L61.57 177.46 L61.65 176.46 L61.73 175.46 L61.81 174.47 L61.89 173.47 L61.97 172.47 L62.06 171.48 L62.15 170.48 L62.24 169.48 L62.33 168.49 L62.42 167.49 L62.51 166.50 L62.61 165.50 L62.70 164.51 L62.80 163.51 L62.89 162.51 L62.99 161.52 L63.09 160.52 L63.19 159.53 L63.29 158.53 L63.39 157.54 L63.50 156.54 L63.60 155.55 L63.71 154.56 L63.82 153.56 L63.93 152.57 L64.04 151.57 L64.16 150.58 L64.27 149.59 L64.39 148.59 L64.51 147.60 L64.64 146.61 L64.76 145.62 L64.89 144.63 L65.02 143.63 L65.15 142.64 L65.29 141.65 L65.43 140.66 L65.57 139.67 L65.72 138.68 L65.87 137.69 L66.02 136.70 L66.18 135.72 L66.34 134.73 L66.51 133.75 L66.68 132.76 L66.86 131.78 L67.05 130.80 L67.24 129.82 L67.44 128.85 L67.65 127.88 L67.87 126.92 L68.09 125.96 L68.33 125.01 L68.57 124.06 L68.82 123.12 L69.09 122.18 L69.35 121.25 L69.63 120.32 L69.91 119.39 L70.20 118.47 L70.50 117.56 L70.80 116.64 L71.11 115.74 L71.42 114.83 L71.75 113.94 L72.08 113.05 L72.41 112.16 L72.75 111.28 L73.11 110.41 L73.46 109.54 L73.83 108.68 L74.20 107.83 L74.58 106.99 L74.96 106.15 L75.36 105.33 L75.76 104.51 L76.17 103.71 L76.60 102.92 L77.03 102.15 L77.47 101.38 L77.93 100.63 L78.40 99.90 L78.89 99.18 L79.39 98.47 L79.91 97.77 L80.44 97.09 L81.00 96.41 L81.57 95.74 L82.15 95.07 L82.76 94.41 L83.38 93.74 L84.02 93.06 L84.68 92.39 L85.35 91.71 L86.05 91.02 L86.75 90.34 L87.48 89.65 L88.23 88.97 L88.99 88.30 L89.77 87.64 L90.57 87.00 L91.39 86.37 L92.22 85.75 L93.07 85.15 L93.93 84.58 L94.81 84.02 L95.70 83.48 L96.60 82.95 L97.51 82.45 L98.42 81.96 L99.35 81.49 L100.29 81.04 L101.23 80.59 L102.17 80.16 L103.12 79.76 L104.08 79.38 L105.04 79.01 L106.00 78.62 L106.96 78.20 L107.93 77.89 L108.90 77.57 L109.87 77.27 L110.84 76.98 L111.81 76.70 L112.78 76.46 L113.75 76.12 L114.72 75.84 L115.69 75.48 L116.66 75.16 L117.63 74.89 L118.61 74.69 L119.58 74.44 L120.55 74.24 L121.52 73.93 L122.49 73.62 L123.47 73.41 L124.44 73.17 L125.42 73.10 L126.40 72.75 L127.38 72.49 L128.36 72.16 L129.34 71.97 L130.32 71.93 L131.30 71.69 L132.29 71.55 L133.28 71.50 L134.26 71.37 L135.25 71.17 L136.24 71.08 L137.23 70.95 L138.22 70.72 L139.21 70.67 L140.20 70.20 L141.19 70.13 L142.18 69.81 L143.17 69.70 L144.16 69.61 L145.15 69.34 L146.14 69.12 L147.13 68.99 L148.13 68.95 L149.12 68.91 L150.11 68.76 L151.11 68.68 L152.10 68.56 L153.10 68.38 L154.09 68.24 L155.09 68.14 L156.08 68.17 L157.08 68.04 L158.08 67.83 L159.07 68.04 L160.07 67.88 L161.06 67.78 L162.06 67.62 L163.06 67.49 L164.05 67.51 L165.05 67.22 L166.04 67.17 L167.03 67.07 L168.03 67.03 L169.02 66.79 L170.01 66.60 L171.01 66.50 L172.00 66.59 L172.99 66.53 L173.98 66.18 L174.97 65.97 L175.97 65.68" fill="none" stroke="#12aff0" stroke-width="2.25" stroke-linejoin="round" stroke-linecap="round"/>
<path d="M175.97 65.68 L176.96 65.46 L177.95 65.44 L178.94 65.53 L179.93 65.55 L180.93 65.45 L181.92 65.30 L182.91 65.07 L183.90 64.93 L184.89 64.72 L185.89 64.48 L186.88 64.63 L187.87 64.44 L188.86 64.44 L189.86 64.31 L190.85 64.21 L191.84 64.16 L192.83 64.10 L193.83 63.88 L194.82 63.74 L195.81 63.74 L196.80 63.52 L197.80 63.08 L198.79 62.74 L199.79 62.77 L200.78 62.84 L201.77 62.74 L202.77 62.63 L203.76 62.60 L204.76 62.27 L205.75 62.34 L206.75 62.45 L207.75 62.39 L208.74 62.08 L209.74 62.26 L210.74 62.10 L211.73 62.04 L212.73 61.94 L213.73 62.00 L214.73 61.91 L215.72 61.95 L216.72 61.89 L217.72 61.61 L218.72 61.54 L219.72 61.25 L220.72 61.25 L221.71 61.22 L222.71 60.93 L223.71 61.14 L224.71 61.08 L225.71 60.79 L226.71 60.72 L227.71 60.84 L228.71 61.01 L229.71 61.21 L230.71 61.23 L231.70 60.96 L232.70 60.92 L233.70 60.84 L234.70 60.82 L235.70 60.69 L236.70 60.64 L237.70 60.60 L238.70 60.45 L239.70 60.36 L240.70 60.31 L241.70 60.33 L242.70 60.45 L243.70 60.49 L244.70 60.28 L245.69 60.38 L246.69 60.29 L247.69 60.22 L248.69 60.11 L249.69 60.31 L250.69 60.15 L251.69 59.91 L252.69 59.91 L253.69 59.98 L254.69 60.03 L255.69 60.16 L256.69 60.21 L257.69 60.06 L258.69 59.82 L259.69 59.59 L260.69 59.61 L261.69 59.23 L262.68 59.34 L263.68 59.49 L264.68 59.35 L265.68 59.31 L266.68 59.53 L267.68 59.42 L268.68 59.29 L269.68 59.22 L270.68 59.22 L271.68 59.17 L272.68 59.13 L273.68 59.04 L274.68 59.08 L275.67 58.90 L276.67 58.68 L277.67 58.65 L278.67 58.74 L279.67 58.67 L280.67 58.56 L281.67 58.88 L282.67 58.79 L283.67 58.68 L284.67 58.56 L285.67 58.46 L286.67 58.41 L287.67 58.34 L288.66 58.64 L289.66 58.65 L290.66 58.68 L291.66 58.50 L292.66 58.37 L293.66 58.33 L294.66 58.00 L295.66 57.88 L296.66 57.77 L297.66 57.99 L298.66 57.93 L299.66 58.09 L300.66 57.98 L301.66 58.14 L302.66 57.99 L303.65 57.98 L304.65 58.02 L305.65 57.78 L306.65 57.83 L307.65 58.04 L308.65 57.57 L309.65 57.33 L310.65 57.23 L311.65 57.29 L312.65 57.14 L313.65 57.20 L314.65 57.09 L315.65 57.14 L316.65 57.26 L317.65 57.23 L318.65 57.24 L319.65 57.28 L320.65 57.15 L321.65 56.99 L322.65 56.85 L323.65 56.82 L324.65 57.04 L325.65 56.92 L326.65 57.07 L327.65 57.13 L328.65 57.05 L329.65 57.09 L330.65 56.80 L331.65 56.88 L332.65 56.67 L333.65 56.49 L334.65 56.29 L335.65 56.36 L336.65 56.62 L337.64 56.63 L338.64 56.64 L339.64 56.60 L340.64 56.57 L341.64 56.56 L342.64 56.81 L343.64 56.78 L344.64 56.60 L345.64 56.45 L346.64 56.46 L347.64 56.37 L348.64 56.39 L349.64 56.21 L350.64 56.18 L351.64 56.25 L352.64 56.39 L353.64 56.10 L354.64 56.04 L355.64 55.89 L356.64 55.96 L357.64 56.18 L358.64 56.26 L359.63 56.45 L360.63 56.18 L361.63 56.20 L362.63 55.94 L363.63 55.66 L364.63 55.77 L365.63 55.86 L366.63 55.69 L367.63 55.80 L368.63 55.88 L369.63 55.79 L370.63 55.61 L371.63 56.00 L372.63 56.13 L373.63 56.45 L374.63 56.32 L375.63 56.25 L376.63 56.03 L377.63 55.75 L378.63 55.81 L379.63 55.69 L380.63 55.64 L381.63 55.49 L382.63 55.48 L383.63 55.49 L384.63 55.71 L385.63 55.66 L386.63 55.64 L387.63 55.90 L388.63 55.86 L389.63 55.87 L390.63 55.84 L391.63 56.34 L392.63 56.76 L393.63 56.35 L394.63 55.80 L395.63 55.65 L396.62 55.78 L397.62 55.92 L398.62 55.57 L399.62 55.51 L400.62 55.28 L401.62 55.33 L402.62 55.45 L403.62 55.46 L404.62 55.42 L405.62 55.55 L406.62 55.47 L407.62 55.50 L408.62 55.47 L409.62 55.28 L410.62 55.06 L411.62 54.92 L412.62 54.85 L413.61 54.84 L414.61 54.80 L415.61 54.80 L416.61 54.85 L417.61 54.84 L418.61 54.94 L419.61 54.87 L420.61 54.91 L421.61 54.80 L422.61 54.96 L423.61 54.86 L424.61 54.92 L425.61 54.81 L426.61 54.86 L427.61 54.88 L428.61 54.81 L429.61 54.80 L430.61 54.61 L431.61 54.68 L432.61 54.77 L433.61 54.65 L434.61 54.62 L435.61 54.65 L436.61 54.65 L437.61 54.70 L438.61 54.80 L439.61 54.72 L440.61 54.53 L441.61 54.21 L442.61 54.03 L443.61 54.48 L444.61 54.55 L445.61 54.76 L446.61 54.58 L447.61 54.41 L448.61 54.23 L449.61 54.32 L450.61 54.52 L451.61 54.39 L452.61 54.38 L453.61 54.13 L454.61 54.08 L455.61 54.00 L456.61 54.16 L457.61 54.09 L458.61 53.97 L459.61 53.95 L460.61 53.93 L461.61 54.01 L462.61 54.24 L463.61 54.45 L464.61 54.25 L465.61 54.35 L466.61 54.30 L467.61 54.18 L468.61 54.09 L469.61 54.15 L470.61 54.13 L471.61 54.04 L472.61 54.04 L473.61 54.07 L474.61 53.99 L475.61 54.12 L476.61 54.07 L477.61 54.08 L478.61 53.76 L479.61 53.80 L480.61 53.90 L481.61 53.85 L482.61 53.84 L483.61 53.86 L484.61 53.82 L485.61 53.90 L486.61 54.05 L487.61 53.94 L488.61 54.09 L489.61 53.80 L490.61 54.06 L491.61 53.91 L492.61 53.69 L493.61 53.77 L494.61 53.73 L495.61 53.89 L496.61 53.99 L497.61 53.96 L498.61 53.93 L499.61 53.99 L500.61 53.96 L501.61 54.00 L502.61 53.98 L503.61 53.83 L504.61 53.94 L505.61 53.79 L506.61 53.64 L507.61 53.84 L508.61 53.89 L509.61 53.79 L510.61 54.01 L511.61 54.13 L512.61 54.17 L513.61 53.93 L514.61 53.84 L515.61 53.75 L516.61 53.80 L517.61 53.63 L518.61 53.81 L519.61 53.88 L520.61 53.76 L521.61 53.84 L522.61 53.86" fill="none" stroke="#12aff0" stroke-width="2.1" stroke-linejoin="round" stroke-linecap="round"/>
<text x="49" y="357.7" text-anchor="end" class="tk">0</text>
<text x="49" y="319.7" text-anchor="end" class="tk">50</text>
<text x="49" y="281.6" text-anchor="end" class="tk">100</text>
<text x="49" y="243.6" text-anchor="end" class="tk">150</text>
<text x="49" y="205.5" text-anchor="end" class="tk">200</text>
<text x="49" y="167.5" text-anchor="end" class="tk">250</text>
<text x="49" y="129.5" text-anchor="end" class="tk">300</text>
<text x="49" y="91.4" text-anchor="end" class="tk">350</text>
<text x="49" y="53.4" text-anchor="end" class="tk">400</text>
<text x="49" y="15.3" text-anchor="end" class="tk">450</text>
<text x="58.4" y="370.8" text-anchor="middle" class="tk">0</text>
<text x="117.8" y="370.8" text-anchor="middle" class="tk">50</text>
<text x="177.1" y="370.8" text-anchor="middle" class="tk">100</text>
<text x="236.5" y="370.8" text-anchor="middle" class="tk">150</text>
<text x="295.8" y="370.8" text-anchor="middle" class="tk">200</text>
<text x="355.2" y="370.8" text-anchor="middle" class="tk">250</text>
<text x="414.5" y="370.8" text-anchor="middle" class="tk">300</text>
<text x="473.9" y="370.8" text-anchor="middle" class="tk">350</text>
<text x="533.2" y="370.8" text-anchor="middle" class="tk">400</text>
<line x1="363.4" y1="141.6" x2="386" y2="141.6" stroke="#7b2fae" stroke-width="1.8"/><text x="387.6" y="145.6" class="lg">Dry case ( Td = − 50 ºC )</text>
<line x1="363.4" y1="169.3" x2="386" y2="169.3" stroke="#f4100e" stroke-width="1.8"/><text x="387.6" y="173.3" class="lg">Wet case ( Td = − 5 ºC )</text>
<line x1="363.4" y1="197.0" x2="386" y2="197.0" stroke="#14ae4c" stroke-width="1.8"/><text x="387.6" y="201.0" class="lg">Wet case ( Td = 0 ºC )</text>
<line x1="363.4" y1="224.7" x2="386" y2="224.7" stroke="#d08a0c" stroke-width="1.8"/><text x="387.6" y="228.7" class="lg">Wet case ( Td = 5 ºC )</text>
<line x1="363.4" y1="252.4" x2="386" y2="252.4" stroke="#12aff0" stroke-width="1.8"/><text x="387.6" y="256.4" class="lg">Wet case ( Td = 8 ºC )</text>
<text x="286.8" y="389.2" text-anchor="middle" class="ax">Time [min]</text>
<text transform="translate(17.6,180.2) rotate(-90)" text-anchor="middle" class="ax" style="font-size:12.92px">CO<tspan font-size="8.6" dy="2.8">2</tspan><tspan dy="-2.8"> concentration [ ppm ]</tspan></text>
<text x="94.2" y="322.4" style="font-size:12.95px">Feed gas flow rate = 3.9 L STP/min</text>
<g stroke="#1a1a1a" stroke-width="1.05" fill="none">
<line x1="174.7" y1="43.4" x2="187" y2="56.8"/>
<line x1="127" y1="102.5" x2="111.8" y2="92.2"/>
<line x1="85" y1="147" x2="72" y2="134"/>
<line x1="413.2" y1="40.2" x2="425.9" y2="51.6"/>
<line x1="478.3" y1="55.2" x2="475.7" y2="71.5"/>
</g>
<text x="149.1" y="40" class="an">Td = − 50 °C</text>
<text x="130.8" y="108" class="an">Td = − 5 °C</text>
<text x="88.0" y="150.3" class="an">Td = 0 °C</text>
<text x="401.1" y="36.6" class="an">Td = 5 °C</text>
<text x="465.3" y="82" class="an">Td = 8 °C</text>
</svg>
</body></html>
